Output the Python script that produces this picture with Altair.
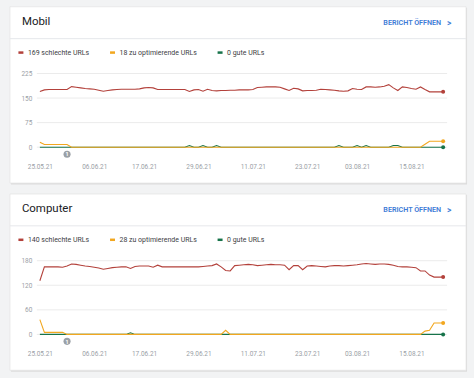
import altair as alt
import pandas as pd

# ---------------- data ----------------
start_date = "2021-05-25"
n_days = 90
dates = pd.date_range(start_date, periods=n_days, freq="D").strftime("%Y-%m-%dT00:00:00").tolist()

titles = ["Mobil", "Computer"]
link_text = "BERICHT ÖFFNEN"
chevron = ">"
labels_mobil = ["169 schlechte URLs", "18 zu optimierende URLs", "0 gute URLs"]
labels_computer = ["140 schlechte URLs", "28 zu optimierende URLs", "0 gute URLs"]
colors = ["#b3413b", "#f2a71f", "#17734a"]

mobil_poor = [170, 175, 176, 176, 176, 176, 176, 185, 183, 181,
              179, 178, 177, 174, 171, 173, 175, 176, 177, 177,
              177, 177, 178, 181, 182, 181, 176, 176, 176, 176,
              176, 176, 176, 170, 175, 176, 171, 177, 173, 172,
              173, 173, 174, 174, 175, 175, 175, 176, 182, 183,
              184, 184, 184, 183, 178, 173, 180, 178, 172, 173,
              173, 174, 177, 176, 175, 174, 172, 171, 172, 179,
              177, 176, 184, 184, 183, 184, 186, 191, 181, 173,
              184, 182, 179, 177, 184, 176, 169, 169, 169, 169]
mobil_ni = [15, 8, 8, 8, 8, 8, 8, 0, 0, 0,
            0, 0, 0, 0, 0, 0, 0, 0, 0, 0,
            0, 0, 0, 0, 0, 0, 0, 0, 0, 0,
            0, 0, 0, 0, 0, 0, 0, 0, 0, 0,
            0, 0, 0, 0, 0, 0, 0, 0, 0, 0,
            0, 0, 0, 0, 0, 0, 0, 0, 0, 0,
            0, 0, 0, 0, 0, 0, 0, 0, 0, 0,
            0, 0, 0, 0, 0, 0, 0, 0, 0, 0,
            0, 0, 0, 0, 0, 9, 18, 18, 18, 18]
mobil_good = [0, 0, 0, 0, 0, 0, 0, 0, 0, 0,
              0, 0, 0, 0, 0, 0, 0, 0, 0, 0,
              0, 0, 0, 0, 0, 0, 0, 0, 0, 0,
              0, 0, 0, 5, 0, 0, 5, 0, 0, 5,
              0, 0, 0, 0, 0, 0, 0, 0, 0, 0,
              0, 0, 0, 0, 0, 0, 0, 0, 0, 0,
              0, 0, 0, 0, 0, 0, 5, 0, 0, 0,
              5, 0, 5, 0, 0, 0, 0, 0, 5, 5,
              0, 0, 0, 0, 0, 0, 0, 0, 0, 0]

computer_poor = [131, 165, 165, 165, 165, 164, 167, 172, 171, 169,
                 167, 166, 164, 162, 159, 161, 163, 164, 165, 165,
                 161, 166, 167, 167, 167, 164, 169, 165, 165, 165,
                 165, 165, 165, 165, 165, 165, 166, 167, 168, 172,
                 165, 156, 155, 168, 169, 170, 171, 170, 168, 169,
                 170, 171, 170, 170, 169, 158, 168, 168, 158, 167,
                 168, 167, 166, 165, 167, 168, 168, 167, 168, 169,
                 170, 172, 173, 172, 171, 172, 172, 171, 169, 166,
                 165, 165, 164, 163, 155, 155, 145, 140, 140, 140]
computer_ni = [36, 5, 5, 5, 5, 5, 0, 0, 0, 0,
               0, 0, 0, 0, 0, 0, 0, 0, 0, 0,
               0, 0, 0, 0, 0, 0, 0, 0, 0, 0,
               0, 0, 0, 0, 0, 0, 0, 0, 0, 0,
               0, 10, 0, 0, 0, 0, 0, 0, 0, 0,
               0, 0, 0, 0, 0, 0, 0, 0, 0, 0,
               0, 0, 0, 0, 0, 0, 0, 0, 0, 0,
               0, 0, 0, 0, 0, 0, 0, 0, 0, 0,
               0, 0, 0, 0, 0, 8, 10, 28, 28, 28]
computer_good = [0, 0, 0, 0, 0, 0, 0, 0, 0, 0,
                 0, 0, 0, 0, 0, 0, 0, 0, 0, 0,
                 4, 0, 0, 0, 0, 0, 0, 0, 0, 0,
                 0, 0, 0, 0, 0, 0, 0, 0, 0, 0,
                 0, 0, 0, 0, 0, 0, 0, 0, 0, 0,
                 0, 0, 0, 0, 0, 0, 0, 0, 0, 0,
                 0, 0, 0, 0, 0, 0, 0, 0, 0, 0,
                 0, 0, 0, 0, 0, 0, 0, 0, 0, 0,
                 0, 0, 0, 0, 0, 0, 0, 0, 0, 0]

y_ticks_mobil = [0, 75, 150, 225]
y_ticks_computer = [0, 60, 120, 180]
x_tick_dates = [(2021, 5, 25), (2021, 6, 6), (2021, 6, 17), (2021, 6, 29),
                (2021, 7, 11), (2021, 7, 23), (2021, 8, 3), (2021, 8, 15)]
annotation_date = "2021-05-31T00:00:00"
annotation_text = "1"

FONT = "Roboto"
x_values = [alt.DateTime(year=y, month=m, date=d) for (y, m, d) in x_tick_dates]
x_domain = [alt.DateTime(year=2021, month=5, date=24, hours=8),
            alt.DateTime(year=2021, month=8, date=22, hours=21)]

W, H = 412, 74


def panel(title, labels, poor, ni, good, yticks):
    rows = []
    # draw order: poor, good, then "needs improvement" on top
    for lab, vals in [(labels[0], poor), (labels[2], good), (labels[1], ni)]:
        for d, v in zip(dates, vals):
            rows.append({"date": d, "value": v, "series": lab})
    df = pd.DataFrame(rows)
    end_df = df[df["date"] == dates[-1]]

    x = alt.X("date:T", scale=alt.Scale(domain=x_domain),
              axis=alt.Axis(values=x_values, format="%d.%m.%y", grid=False, domain=False,
                            ticks=False, tickSize=0, labelPadding=16, title=None,
                            labelFontSize=6.5, labelColor="#9aa0a6", labelFont=FONT,
                            labelOverlap=False, zindex=1))
    yscale = alt.Scale(domain=[0, yticks[-1]], nice=False, zero=True)
    y = alt.Y("value:Q", scale=yscale,
              axis=alt.Axis(values=yticks, grid=False, labelOverlap=False,
                            domain=False, ticks=False, tickSize=0, labelPadding=5, title=None,
                            labelFontSize=6.5, labelColor="#9aa0a6", labelFont=FONT,
                            zindex=1))
    cscale = alt.Scale(domain=labels, range=colors)

    one = pd.DataFrame({"k": [0]})
    shadow = alt.Chart(one).mark_rect(fill="#dcdcdc").encode(
        x=alt.value(-26), x2=alt.value(432), y=alt.value(-66), y2=alt.value(111.5))
    card = alt.Chart(one).mark_rect(fill="white", stroke="#e6e6e6", strokeWidth=0.8).encode(
        x=alt.value(-27), x2=alt.value(431), y=alt.value(-67), y2=alt.value(110))
    divider = alt.Chart(one).mark_rule(color="#e6e8eb", strokeWidth=1).encode(
        x=alt.value(-27), x2=alt.value(431), y=alt.value(-35))
    grid = alt.Chart(pd.DataFrame({"value": yticks})).mark_rule(
        color="#ebebeb", strokeWidth=1).encode(
        x=alt.value(0), x2=alt.value(W), y=y)
    title_t = alt.Chart(pd.DataFrame({"t": [title]})).mark_text(
        align="left", baseline="middle", fontSize=11.5, font=FONT, color="#202124").encode(
        x=alt.value(-15), y=alt.value(-52), text="t:N")
    link_t = alt.Chart(pd.DataFrame({"t": [link_text]})).mark_text(
        align="right", baseline="middle", fontSize=7.2, font=FONT, fontWeight=600,
        color="#3d7bd6").encode(x=alt.value(406), y=alt.value(-51), text="t:N")
    chev_t = alt.Chart(pd.DataFrame({"t": [chevron]})).mark_text(
        align="center", baseline="middle", fontSize=8.5, font=FONT, fontWeight=600,
        color="#3d7bd6").encode(x=alt.value(414), y=alt.value(-51), text="t:N")

    lines = alt.Chart(df).mark_line(strokeWidth=1.1).encode(
        x=x, y=y,
        color=alt.Color("series:N", scale=cscale,
                        legend=alt.Legend(orient="none", legendX=-20, legendY=-25,
                                          direction="horizontal", symbolType="stroke",
                                          symbolSize=25, symbolStrokeWidth=2.5,
                                          labelFontSize=7, labelFont=FONT,
                                          labelColor="#3c4043", columnPadding=15,
                                          labelOffset=3, title=None, padding=0)),
        detail="series:N")
    points = alt.Chart(end_df).mark_circle(size=16, opacity=1).encode(
        x=x, y=y, color=alt.Color("series:N", scale=cscale, legend=None))

    ann = pd.DataFrame({"date": [annotation_date], "t": [annotation_text]})
    ann_c = alt.Chart(ann).mark_circle(size=50, color="#9aa0a6", opacity=1).encode(
        x=x, y=alt.value(81))
    ann_t = alt.Chart(ann).mark_text(color="white", fontSize=5.5, font=FONT, fontWeight="bold",
                                     baseline="middle").encode(
        x=x, y=alt.value(81.3), text="t:N")

    return alt.layer(shadow, card, divider, grid, title_t, link_t, chev_t, lines, points,
                     ann_c, ann_t).properties(width=W, height=H)


top = panel(titles[0], labels_mobil, mobil_poor, mobil_ni, mobil_good, y_ticks_mobil)
bottom = panel(titles[1], labels_computer, computer_poor, computer_ni, computer_good, y_ticks_computer)

chart = alt.vconcat(
    top, bottom, spacing=114, bounds="flush",
    padding={"left": 9, "top": 5, "right": 7, "bottom": 8},
    background="#f2f3f4",
).resolve_scale(color="independent").configure_view(stroke=None)

chart.save("out.html", embed_options={"renderer": "svg", "actions": False})
